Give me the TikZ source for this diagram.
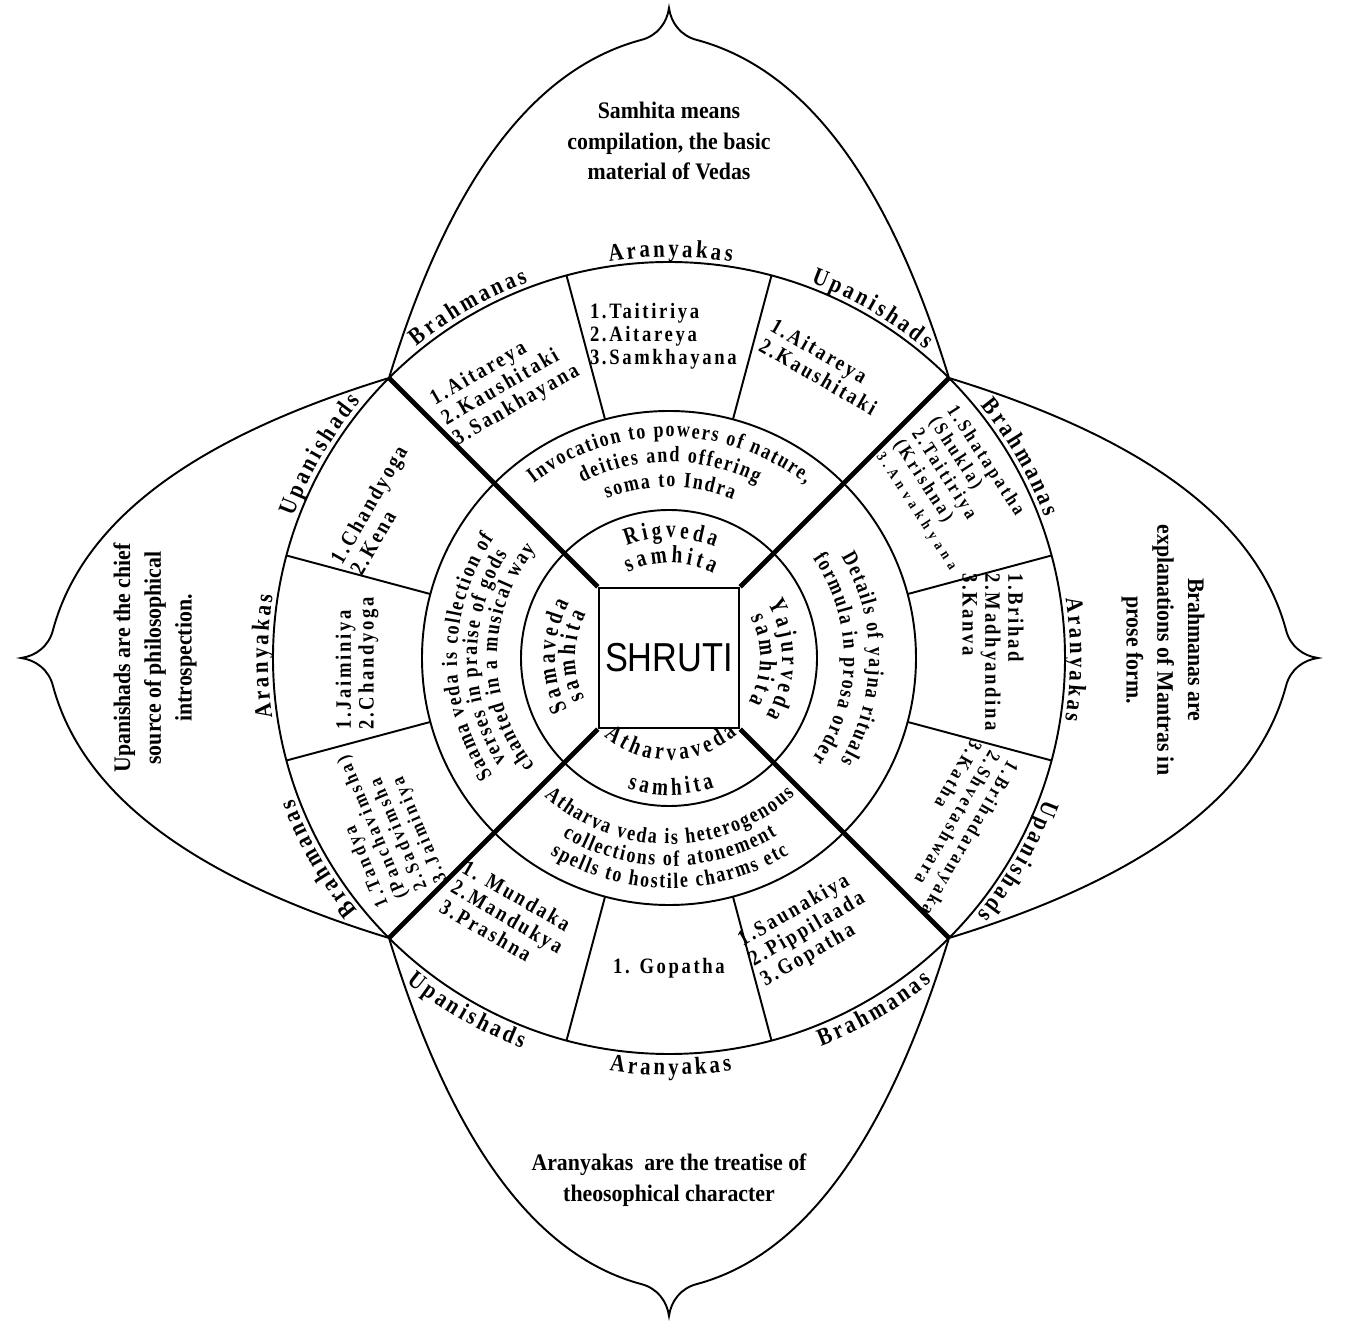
\documentclass[tikz,border=0pt]{standalone}
\usepackage{fontspec}
\setmainfont{Liberation Serif}
\usepackage{tikz}
\usetikzlibrary{
  decorations.text
}
\newfontfamily\labfam[FakeStretch=0.85]{Liberation Serif}
\newfontfamily\ringfam[FakeStretch=0.82]{Liberation Serif}
\newfontfamily\innerfam[FakeStretch=0.78]{Liberation Serif}
\newfontfamily\cellfam[FakeStretch=0.85,LetterSpace=12]{Liberation Serif}
\newfontfamily\petfam[FakeStretch=0.92]{Liberation Serif}
\newfontfamily\shrutifam[FakeStretch=0.85]{Liberation Sans}
\newcommand\labtxt{\labfam\bfseries\fontsize{14}{16}\selectfont\kern1.8pt}
\newcommand\ringtxt{\ringfam\bfseries\fontsize{12.5}{14}\selectfont\kern1pt}
\newcommand\innertxt{\innerfam\bfseries\fontsize{14}{16}\selectfont\kern2.2pt}
\newcommand\celltxt{\cellfam\bfseries\fontsize{12.5}{13}\selectfont}
\newcommand\smallcelltxt{\cellfam\bfseries\fontsize{11}{12}\selectfont\addfontfeature{LetterSpace=16}}
\newcommand\pettxt{\petfam\bfseries\fontsize{13.5}{17.5}\selectfont}
% text on a circle: radius, middle angle, font, text
\newcommand\cwtext[4]{%
  \path[decorate,decoration={text along path,text align=center,text={|#3|#4}}]
  ({#2+70}:#1) arc[start angle={#2+70},end angle={#2-70},radius=#1];}
\newcommand\ccwtext[4]{%
  \path[decorate,decoration={text along path,text align=center,text={|#3|#4}}]
  ({#2-70}:#1) arc[start angle={#2-70},end angle={#2+70},radius=#1];}
\tikzset{
  ring/.style={line width=1.1pt},
  spoke/.style={line width=2.8pt},
  petal/.style={line width=1.1pt},
  hub/.style={draw, line width=1.3pt, minimum size=2.8cm, inner sep=0pt,
    font=\shrutifam\fontsize{23}{23}\selectfont},
  cell/.style={align=left, inner sep=0pt, font=\celltxt},
  smallcell/.style={cell, font=\smallcelltxt},
  note/.style={align=center, inner sep=0pt, font=\pettxt}
}
\begin{document}
\begin{tikzpicture}[x=0.02cm, y=0.02cm]
  \fill[white] (-669,-666) rectangle (689,658);
  \foreach \a/\t in {0/650,90/648,180/658,270/649}{
    \draw[petal, rotate=\a] (-280,280) .. controls (-230,443) and (-154,\t-66) .. (-28,\t-32)
      .. controls (-12,\t-28) and (-2,\t-15) .. (0,\t)
      .. controls (2,\t-15) and (12,\t-28) .. (28,\t-32)
      .. controls (154,\t-66) and (230,443) .. (280,280);
  }
  \draw[ring] (0,0) circle[radius=148];
  \draw[ring] (0,0) circle[radius=247];
  \draw[ring] (0,0) circle[radius=396];
  \foreach \a in {15,75,105,165,195,255,285,345}
    \draw[ring] (\a:247) -- (\a:396);
  \node[hub] (shruti) at (0,0) {SHRUTI};
  \draw[spoke] (shruti.north east) -- (45:396);
  \draw[spoke] (shruti.north west) -- (135:396);
  \draw[spoke] (shruti.south west) -- (225:396);
  \draw[spoke] (shruti.south east) -- (315:396);

  \cwtext{401}{120}{\labtxt}{Brahmanas}
  \cwtext{401}{90}{\labtxt}{Aranyakas}
  \cwtext{401}{60}{\labtxt}{Upanishads}
  \cwtext{401}{30}{\labtxt}{Brahmanas}
  \cwtext{401}{0}{\labtxt}{Aranyakas}
  \cwtext{401}{-30}{\labtxt}{Upanishads}
  \cwtext{401}{150}{\labtxt}{Upanishads}
  \cwtext{401}{180}{\labtxt}{Aranyakas}
  \cwtext{401}{210}{\labtxt}{Brahmanas}
  \ccwtext{417}{240}{\labtxt}{Upanishads}
  \ccwtext{417}{270}{\labtxt}{Aranyakas}
  \ccwtext{417}{300}{\labtxt}{Brahmanas}

  \cwtext{221}{90}{\ringtxt}{Invocation to powers of nature,}
  \cwtext{196}{90}{\ringtxt}{deities and offering}
  \cwtext{171}{90}{\ringtxt}{soma to Indra}
  \cwtext{200}{0}{\ringtxt}{Details of yajna rituals}
  \cwtext{175}{0}{\ringtxt}{formula in prosa order}
  \cwtext{212}{180}{\ringtxt}{Saama veda is collection of}
  \cwtext{192}{180}{\ringtxt}{verses in praise of gods}
  \cwtext{172}{180}{\ringtxt}{chanted in a musical way}
  \ccwtext{186}{270}{\ringtxt}{Atharva veda is heterogenous}
  \ccwtext{208}{270}{\ringtxt}{collections of atonement}
  \ccwtext{230}{270}{\ringtxt}{spells to hostile charms etc}

  \cwtext{120}{90}{\innertxt}{Rigveda}
  \cwtext{95}{90}{\innertxt}{samhita}
  \cwtext{113}{0}{\innertxt}{Yajurveda}
  \cwtext{91}{0}{\innertxt}{samhita}
  \cwtext{114}{180}{\innertxt}{Samaveda}
  \cwtext{94}{180}{\innertxt}{samhita}
  \ccwtext{102}{270}{\innertxt}{Atharvaveda}
  \ccwtext{137}{270}{\innertxt}{samhita}

  \node[cell, rotate=30] (rigbrah) at (121:318) {1.Aitareya\\2.Kaushitaki\\3.Sankhayana};
  \node[cell] (rigaran) at (91:322) {1.Taitiriya\\2.Aitareya\\3.Samkhayana};
  \node[cell, rotate=-30] (rigupan) at (62:330) {1.Aitareya\\2.Kaushitaki};
  \node[smallcell, rotate=-57] (yajbrah) at (31:331) {1.Shatapatha\\(Shukla)\\2.Taitiriya\\(Krishna)\\{\fontsize{8.5}{10}\selectfont\addfontfeature{LetterSpace=35}3.Anvakhyana}};
  \node[cell, rotate=-90] (yajaran) at (1:324) {1.Brihad\\2.Madhyandina\\3.Kanva};
  \node[smallcell, rotate=-120] (yajupan) at (-31:330) {1.Brihadaranyaka\\2.Shvetashwara\\3.Katha};
  \node[cell, rotate=-30] (athupan) at (238:305) {1. Mundaka\\2.Mandukya\\3.Prashna};
  \node[cell] (atharan) at (270:310) {1. Gopatha};
  \node[cell, rotate=30] (athbrah) at (297:305) {1.Saunakiya\\2.Pippilaada\\3.Gopatha};
  \node[cell, rotate=60] (samupan) at (153:326) {1.Chandyoga\\2.Kena};
  \node[cell, rotate=90] (samaran) at (181:312) {1.Jaiminiya\\2.Chandyoga};
  \node[smallcell, rotate=113] (sambrah) at (210:330) {1.Tandya\\(Panchavimsha)\\2.Sadvimsha\\3.Jaiminiya};

  \node[note] (samhita) at (0,517) {Samhita means\\compilation, the basic\\material of Vedas};
  \node[note, rotate=-90] (brahmana) at (494,8) {Brahmanas are\\explanations of Mantras in\\prose form.};
  \node[note, rotate=90] (upanishad) at (-514,0) {Upanishads are the chief\\source of philosophical\\introspection.};
  \node[note] (aranyaka) at (0,-522) {Aranyakas~ are the treatise of\\theosophical character};
\end{tikzpicture}
\end{document}
